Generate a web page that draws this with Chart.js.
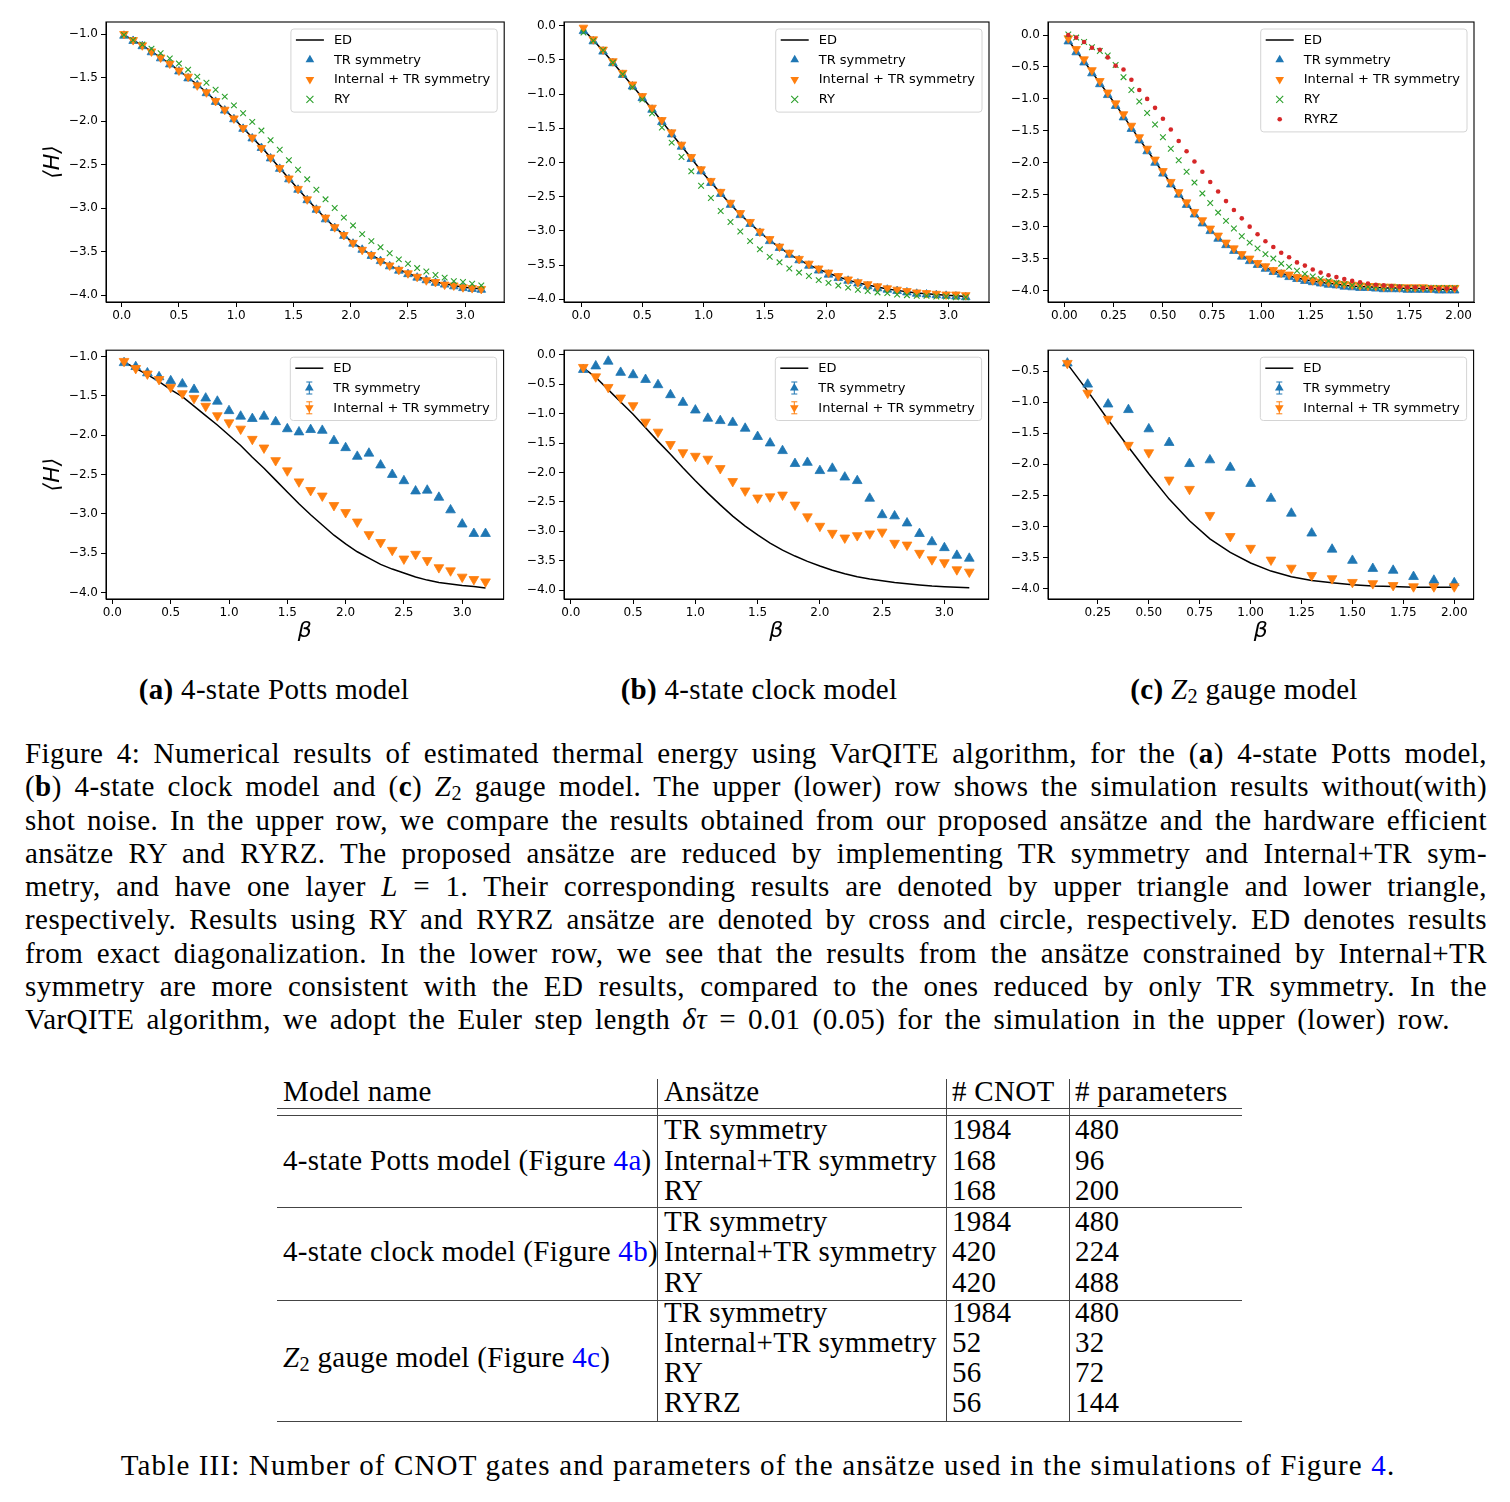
<!DOCTYPE html>
<html>
<head>
<meta charset="utf-8">
<script src="https://cdn.jsdelivr.net/npm/chart.js"></script>
<style>
html, body { margin: 0; padding: 0; background: #fff; }
body { width: 1510px; height: 1502px; position: relative; overflow: hidden; font-family: "Liberation Serif", serif; color: #000; }
canvas { position: absolute; }
.t { position: absolute; font-size: 29px; line-height: 29px; white-space: nowrap; letter-spacing: 0.3px; }
.cap { position: absolute; left: 25px; font-size: 29px; line-height: 29px; white-space: nowrap; letter-spacing: 0.45px; }
.sub { position: absolute; width: 600px; text-align: center; font-size: 29px; line-height: 29px; white-space: nowrap; letter-spacing: 0.3px; }
.s2 { font-size: 0.7em; position: relative; top: 0.22em; }
.hl { position: absolute; left: 277px; width: 965px; height: 1px; background: #444; }
.vl { position: absolute; width: 1px; top: 1079px; height: 343px; background: #444; }
.ref { color: #0000ff; }
</style>
</head>
<body>

<canvas id="c0" width="490" height="320" style="left:20px;top:10px"></canvas>
<canvas id="c1" width="480" height="320" style="left:515px;top:10px"></canvas>
<canvas id="c2" width="480" height="320" style="left:1000px;top:10px"></canvas>
<canvas id="c3" width="490" height="320" style="left:20px;top:340px"></canvas>
<canvas id="c4" width="480" height="320" style="left:515px;top:340px"></canvas>
<canvas id="c5" width="480" height="320" style="left:1000px;top:340px"></canvas>

<div class="sub" style="left:-26px;top:675px"><b>(a)</b> 4-state Potts model</div>
<div class="sub" style="left:459px;top:675px"><b>(b)</b> 4-state clock model</div>
<div class="sub" style="left:944px;top:675px"><b>(c)</b> <i>Z</i><span class="s2">2</span> gauge model</div>

<div class="cap" data-w="1462" style="top:739px"><span>Figure 4: Numerical results of estimated thermal energy using VarQITE algorithm, for the (<b>a</b>) 4-state Potts model,</span></div>
<div class="cap" data-w="1462" style="top:772px"><span>(<b>b</b>) 4-state clock model and (<b>c</b>) <i>Z</i><span class="s2">2</span> gauge model. The upper (lower) row shows the simulation results without(with)</span></div>
<div class="cap" data-w="1462" style="top:806px"><span>shot noise. In the upper row, we compare the results obtained from our proposed ansätze and the hardware efficient</span></div>
<div class="cap" data-w="1462" style="top:839px"><span>ansätze RY and RYRZ. The proposed ansätze are reduced by implementing TR symmetry and Internal+TR sym-</span></div>
<div class="cap" data-w="1462" style="top:872px"><span>metry, and have one layer <i>L</i> = 1. Their corresponding results are denoted by upper triangle and lower triangle,</span></div>
<div class="cap" data-w="1462" style="top:905px"><span>respectively. Results using RY and RYRZ ansätze are denoted by cross and circle, respectively. ED denotes results</span></div>
<div class="cap" data-w="1462" style="top:939px"><span>from exact diagonalization. In the lower row, we see that the results from the ansätze constrained by Internal+TR</span></div>
<div class="cap" data-w="1462" style="top:972px"><span>symmetry are more consistent with the ED results, compared to the ones reduced by only TR symmetry. In the</span></div>
<div class="cap" data-w="1425" style="top:1005px"><span>VarQITE algorithm, we adopt the Euler step length <i>δτ</i> = 0.01 (0.05) for the simulation in the upper (lower) row.</span></div>

<!-- table -->
<div class="t" style="left:283px;top:1077px">Model name</div>
<div class="t" style="left:664px;top:1077px">Ansätze</div>
<div class="t" style="left:952px;top:1077px"># CNOT</div>
<div class="t" style="left:1075px;top:1077px"># parameters</div>

<div class="t" style="left:283px;top:1146px">4-state Potts model (Figure <span class="ref">4a</span>)</div>
<div class="t" style="left:664px;top:1115px">TR symmetry</div>
<div class="t" style="left:664px;top:1146px">Internal+TR symmetry</div>
<div class="t" style="left:664px;top:1176px">RY</div>
<div class="t" style="left:952px;top:1115px">1984</div>
<div class="t" style="left:952px;top:1146px">168</div>
<div class="t" style="left:952px;top:1176px">168</div>
<div class="t" style="left:1075px;top:1115px">480</div>
<div class="t" style="left:1075px;top:1146px">96</div>
<div class="t" style="left:1075px;top:1176px">200</div>

<div class="t" style="left:283px;top:1237px">4-state clock model (Figure <span class="ref">4b</span>)</div>
<div class="t" style="left:664px;top:1207px">TR symmetry</div>
<div class="t" style="left:664px;top:1237px">Internal+TR symmetry</div>
<div class="t" style="left:664px;top:1268px">RY</div>
<div class="t" style="left:952px;top:1207px">1984</div>
<div class="t" style="left:952px;top:1237px">420</div>
<div class="t" style="left:952px;top:1268px">420</div>
<div class="t" style="left:1075px;top:1207px">480</div>
<div class="t" style="left:1075px;top:1237px">224</div>
<div class="t" style="left:1075px;top:1268px">488</div>

<div class="t" style="left:283px;top:1343px"><i>Z</i><span class="s2">2</span> gauge model (Figure <span class="ref">4c</span>)</div>
<div class="t" style="left:664px;top:1298px">TR symmetry</div>
<div class="t" style="left:664px;top:1328px">Internal+TR symmetry</div>
<div class="t" style="left:664px;top:1358px">RY</div>
<div class="t" style="left:664px;top:1388px">RYRZ</div>
<div class="t" style="left:952px;top:1298px">1984</div>
<div class="t" style="left:952px;top:1328px">52</div>
<div class="t" style="left:952px;top:1358px">56</div>
<div class="t" style="left:952px;top:1388px">56</div>
<div class="t" style="left:1075px;top:1298px">480</div>
<div class="t" style="left:1075px;top:1328px">32</div>
<div class="t" style="left:1075px;top:1358px">72</div>
<div class="t" style="left:1075px;top:1388px">144</div>

<div class="hl" style="top:1108px"></div>
<div class="hl" style="top:1115px"></div>
<div class="hl" style="top:1207px"></div>
<div class="hl" style="top:1300px"></div>
<div class="hl" style="top:1421px"></div>
<div class="vl" style="left:657px"></div>
<div class="vl" style="left:946px"></div>
<div class="vl" style="left:1069px"></div>

<div class="sub" style="left:0px;top:1451px;width:1516px;letter-spacing:1.15px">Table III: Number of CNOT gates and parameters of the ansätze used in the simulations of Figure <span class="ref">4</span>.</div>

<script>
// ---------------- data ----------------

// upper row, (a) and (b): beta grid
const betaTop = [0.02, 0.10, 0.18, 0.26, 0.34, 0.42, 0.50, 0.58, 0.66, 0.74, 0.82, 0.90, 0.98, 1.06, 1.14, 1.22, 1.30, 1.38, 1.46, 1.54,
                 1.62, 1.70, 1.78, 1.86, 1.94, 2.02, 2.10, 2.18, 2.26, 2.34, 2.42, 2.50, 2.58, 2.66, 2.74, 2.82, 2.90, 2.98, 3.06, 3.14];

const pottsEd  = [-1.01, -1.07, -1.13, -1.20, -1.27, -1.34, -1.42, -1.50, -1.58, -1.67, -1.77, -1.87, -1.97, -2.08, -2.19, -2.30, -2.42, -2.54, -2.66, -2.78,
                  -2.90, -3.01, -3.12, -3.22, -3.31, -3.40, -3.47, -3.54, -3.60, -3.66, -3.71, -3.75, -3.79, -3.82, -3.85, -3.87, -3.89, -3.91, -3.92, -3.93];
const pottsTr  = [-1.02, -1.08, -1.14, -1.21, -1.28, -1.35, -1.43, -1.51, -1.59, -1.68, -1.78, -1.88, -1.98, -2.09, -2.20, -2.31, -2.43, -2.55, -2.67, -2.79,
                  -2.91, -3.02, -3.13, -3.23, -3.32, -3.41, -3.48, -3.55, -3.61, -3.67, -3.72, -3.76, -3.80, -3.83, -3.86, -3.88, -3.90, -3.92, -3.93, -3.94];
const pottsInt = [-1.00, -1.07, -1.13, -1.20, -1.27, -1.34, -1.42, -1.49, -1.59, -1.67, -1.77, -1.87, -1.97, -2.08, -2.19, -2.31, -2.42, -2.54, -2.66, -2.78,
                  -2.90, -3.01, -3.11, -3.22, -3.31, -3.40, -3.48, -3.54, -3.61, -3.66, -3.71, -3.75, -3.79, -3.83, -3.85, -3.88, -3.89, -3.91, -3.92, -3.93];
const pottsRy  = [-1.01, -1.07, -1.12, -1.17, -1.22, -1.28, -1.34, -1.41, -1.49, -1.56, -1.64, -1.72, -1.82, -1.91, -2.01, -2.11, -2.22, -2.33, -2.45, -2.56,
                  -2.67, -2.79, -2.90, -3.00, -3.11, -3.20, -3.30, -3.38, -3.45, -3.52, -3.59, -3.64, -3.69, -3.73, -3.77, -3.80, -3.84, -3.85, -3.87, -3.89];

const clockEd  = [-0.06, -0.21, -0.37, -0.54, -0.71, -0.88, -1.05, -1.22, -1.40, -1.58, -1.76, -1.94, -2.12, -2.29, -2.45, -2.61, -2.76, -2.89, -3.02, -3.14,
                  -3.24, -3.34, -3.42, -3.50, -3.56, -3.62, -3.67, -3.72, -3.76, -3.79, -3.82, -3.85, -3.87, -3.89, -3.91, -3.92, -3.93, -3.94, -3.95, -3.96];
const clockTr  = [-0.08, -0.23, -0.38, -0.55, -0.72, -0.89, -1.06, -1.23, -1.41, -1.59, -1.77, -1.95, -2.13, -2.30, -2.46, -2.62, -2.77, -2.90, -3.03, -3.15,
                  -3.25, -3.35, -3.43, -3.51, -3.58, -3.64, -3.69, -3.73, -3.77, -3.81, -3.84, -3.86, -3.88, -3.90, -3.92, -3.93, -3.94, -3.95, -3.96, -3.97];
const clockInt = [-0.03, -0.20, -0.35, -0.52, -0.69, -0.86, -1.03, -1.20, -1.38, -1.56, -1.74, -1.92, -2.10, -2.27, -2.43, -2.59, -2.74, -2.87, -3.01, -3.12,
                  -3.23, -3.32, -3.41, -3.48, -3.55, -3.61, -3.66, -3.71, -3.75, -3.78, -3.81, -3.84, -3.86, -3.88, -3.90, -3.91, -3.92, -3.93, -3.93, -3.94];
const clockRy  = [-0.10, -0.22, -0.36, -0.54, -0.71, -0.90, -1.08, -1.28, -1.49, -1.71, -1.92, -2.13, -2.34, -2.52, -2.71, -2.87, -3.01, -3.15, -3.27, -3.38,
                  -3.46, -3.55, -3.61, -3.66, -3.72, -3.76, -3.80, -3.83, -3.86, -3.88, -3.90, -3.91, -3.93, -3.94, -3.95, -3.95, -3.96, -3.96, -3.97, -3.97];

// upper row, (c): beta grid
const betaGauge = [0.02, 0.06, 0.10, 0.14, 0.18, 0.22, 0.26, 0.30, 0.34, 0.38, 0.42, 0.46, 0.50, 0.54, 0.58, 0.62, 0.66, 0.70, 0.74, 0.78,
                   0.82, 0.86, 0.90, 0.94, 0.98, 1.02, 1.06, 1.10, 1.14, 1.18, 1.22, 1.26, 1.30, 1.34, 1.38, 1.42, 1.46, 1.50, 1.54, 1.58,
                   1.62, 1.66, 1.70, 1.74, 1.78, 1.82, 1.86, 1.90, 1.94, 1.98];

const gaugeEd   = [-0.08, -0.25, -0.41, -0.58, -0.75, -0.92, -1.09, -1.27, -1.45, -1.63, -1.80, -1.98, -2.15, -2.32, -2.48, -2.64, -2.79, -2.93, -3.05, -3.17,
                   -3.27, -3.36, -3.45, -3.52, -3.58, -3.64, -3.69, -3.73, -3.77, -3.80, -3.83, -3.85, -3.87, -3.89, -3.90, -3.92, -3.93, -3.94, -3.94, -3.95,
                   -3.96, -3.96, -3.96, -3.97, -3.97, -3.97, -3.97, -3.98, -3.98, -3.98];
const gaugeTr   = [-0.10, -0.27, -0.43, -0.60, -0.77, -0.94, -1.11, -1.29, -1.47, -1.65, -1.82, -2.00, -2.17, -2.34, -2.50, -2.66, -2.81, -2.95, -3.07, -3.19,
                   -3.29, -3.38, -3.47, -3.54, -3.60, -3.66, -3.71, -3.75, -3.79, -3.82, -3.85, -3.87, -3.89, -3.91, -3.92, -3.94, -3.95, -3.96, -3.96, -3.97,
                   -3.98, -3.98, -3.98, -3.99, -3.99, -3.99, -3.99, -4.00, -4.00, -4.00];
const gaugeInt  = [-0.05, -0.22, -0.38, -0.55, -0.72, -0.90, -1.07, -1.24, -1.42, -1.60, -1.78, -1.95, -2.13, -2.30, -2.46, -2.62, -2.77, -2.90, -3.03, -3.14,
                   -3.25, -3.34, -3.43, -3.50, -3.57, -3.62, -3.68, -3.72, -3.75, -3.79, -3.81, -3.84, -3.86, -3.87, -3.89, -3.90, -3.91, -3.92, -3.93, -3.93,
                   -3.94, -3.94, -3.95, -3.95, -3.95, -3.95, -3.96, -3.96, -3.96, -3.96];
const gaugeRy   = [0.01, -0.04, -0.11, -0.19, -0.25, -0.32, -0.47, -0.66, -0.86, -1.04, -1.22, -1.40, -1.60, -1.78, -1.96, -2.14, -2.31, -2.48, -2.63, -2.78,
                   -2.91, -3.03, -3.15, -3.25, -3.34, -3.43, -3.50, -3.58, -3.63, -3.69, -3.74, -3.78, -3.82, -3.85, -3.88, -3.90, -3.92, -3.93, -3.94, -3.94,
                   -3.95, -3.95, -3.95, -3.96, -3.96, -3.96, -3.96, -3.96, -3.96, -3.96];
const gaugeRyrz = [0.00, -0.04, -0.11, -0.20, -0.23, -0.35, -0.48, -0.54, -0.70, -0.86, -1.00, -1.14, -1.31, -1.48, -1.66, -1.82, -1.98, -2.14, -2.30, -2.45,
                   -2.60, -2.74, -2.87, -3.00, -3.12, -3.23, -3.32, -3.41, -3.48, -3.56, -3.61, -3.67, -3.72, -3.76, -3.79, -3.82, -3.85, -3.87, -3.89, -3.91,
                   -3.92, -3.93, -3.94, -3.95, -3.95, -3.96, -3.96, -3.97, -3.97, -3.97];

// lower row (with shot noise)
const betaLow = [0.1, 0.2, 0.3, 0.4, 0.5, 0.6, 0.7, 0.8, 0.9, 1.0, 1.1, 1.2, 1.3, 1.4, 1.5, 1.6,
                 1.7, 1.8, 1.9, 2.0, 2.1, 2.2, 2.3, 2.4, 2.5, 2.6, 2.7, 2.8, 2.9, 3.0, 3.1, 3.2];

const pottsLowEd  = [-1.07, -1.15, -1.23, -1.32, -1.42, -1.51, -1.63, -1.75, -1.87, -2.00, -2.13, -2.28, -2.42, -2.57, -2.72, -2.87,
                     -3.01, -3.14, -3.27, -3.38, -3.48, -3.56, -3.64, -3.70, -3.75, -3.80, -3.84, -3.87, -3.89, -3.91, -3.92, -3.94];
const pottsLowTr  = [-1.08, -1.13, -1.21, -1.26, -1.31, -1.35, -1.42, -1.53, -1.57, -1.69, -1.76, -1.79, -1.76, -1.83, -1.92, -1.96,
                     -1.93, -1.94, -2.07, -2.16, -2.27, -2.23, -2.38, -2.50, -2.58, -2.71, -2.70, -2.79, -2.95, -3.13, -3.25, -3.25];
const pottsLowInt = [-1.06, -1.15, -1.22, -1.29, -1.39, -1.47, -1.53, -1.63, -1.75, -1.84, -1.92, -2.05, -2.16, -2.32, -2.45, -2.59,
                     -2.70, -2.77, -2.89, -2.98, -3.10, -3.26, -3.36, -3.46, -3.57, -3.51, -3.59, -3.68, -3.72, -3.80, -3.83, -3.86];

const clockLowEd  = [-0.22, -0.38, -0.59, -0.80, -1.01, -1.24, -1.47, -1.69, -1.92, -2.14, -2.35, -2.55, -2.74, -2.91, -3.06, -3.20,
                     -3.32, -3.42, -3.51, -3.59, -3.66, -3.72, -3.77, -3.81, -3.84, -3.87, -3.89, -3.91, -3.93, -3.94, -3.95, -3.96];
const clockLowTr  = [-0.25, -0.19, -0.11, -0.30, -0.34, -0.42, -0.51, -0.68, -0.81, -0.94, -1.08, -1.12, -1.15, -1.25, -1.39, -1.50,
                     -1.63, -1.85, -1.83, -1.97, -1.93, -2.08, -2.14, -2.44, -2.72, -2.74, -2.86, -3.04, -3.18, -3.28, -3.41, -3.46];
const clockLowInt = [-0.21, -0.37, -0.55, -0.73, -0.86, -1.14, -1.31, -1.52, -1.66, -1.72, -1.77, -1.93, -2.15, -2.31, -2.43, -2.41,
                     -2.38, -2.55, -2.75, -2.91, -3.03, -3.11, -3.07, -3.04, -3.01, -3.20, -3.23, -3.37, -3.48, -3.53, -3.65, -3.69];

const betaLowGauge = [0.1, 0.2, 0.3, 0.4, 0.5, 0.6, 0.7, 0.8, 0.9, 1.0, 1.1, 1.2, 1.3, 1.4, 1.5, 1.6, 1.7, 1.8, 1.9, 2.0];
const gaugeLowEd  = [-0.38, -0.82, -1.28, -1.72, -2.15, -2.56, -2.91, -3.20, -3.42, -3.59, -3.72, -3.81, -3.87, -3.91, -3.94, -3.96, -3.97, -3.98, -3.98, -3.98];
const gaugeLowTr  = [-0.37, -0.71, -1.03, -1.12, -1.43, -1.65, -1.99, -1.93, -2.05, -2.31, -2.55, -2.79, -3.11, -3.37, -3.55, -3.68, -3.71, -3.81, -3.87, -3.91];
const gaugeLowInt = [-0.37, -0.85, -1.27, -1.69, -1.81, -2.25, -2.40, -2.82, -3.16, -3.35, -3.54, -3.67, -3.79, -3.84, -3.90, -3.92, -3.95, -3.97, -3.97, -3.97];

// tick labels
const ticksBeta      = [0.0, 0.5, 1.0, 1.5, 2.0, 2.5, 3.0];
const ticksBetaGauge = [0.00, 0.25, 0.50, 0.75, 1.00, 1.25, 1.50, 1.75, 2.00];
const ticksBetaLowG  = [0.25, 0.50, 0.75, 1.00, 1.25, 1.50, 1.75, 2.00];
const ticksPotts     = [-4.0, -3.5, -3.0, -2.5, -2.0, -1.5, -1.0];
const ticksZeroDown  = [-4.0, -3.5, -3.0, -2.5, -2.0, -1.5, -1.0, -0.5, 0.0];
const ticksGaugeLow  = [-4.0, -3.5, -3.0, -2.5, -2.0, -1.5, -1.0, -0.5];

const LABELS = { ed: 'ED', tr: 'TR symmetry', int: 'Internal + TR symmetry', ry: 'RY', ryrz: 'RYRZ' };

// ---------------- styling ----------------
const C_BLUE = '#1f77b4', C_ORANGE = '#ff7f0e', C_GREEN = '#2ca02c', C_RED = '#d62728';
const TICK_FONT = { family: 'DejaVu Sans', size: 12 };

function pts(xs, ys) {
    return xs.map((x, i) => ({ x: x, y: ys[i] }));
}

function fmt(v, d) {
    let s = Math.abs(v).toFixed(d);
    return (v < -1e-9 ? '\u2212' : '') + s;
}

function makeDataset(key, xs, ys, r) {
    let d = { label: LABELS[key], data: pts(xs, ys) };
    if (key === 'ed') {
        return Object.assign(d, { type: 'line', showLine: true, borderColor: '#000', borderWidth: 1.5, pointRadius: 0, order: 5 });
    }
    if (key === 'tr') {
        return Object.assign(d, { pointStyle: 'triangle', pointRadius: r, pointBackgroundColor: C_BLUE, pointBorderColor: C_BLUE, pointBorderWidth: 0.8, order: 4 });
    }
    if (key === 'int') {
        return Object.assign(d, { pointStyle: 'triangle', rotation: 180, pointRadius: r, pointBackgroundColor: C_ORANGE, pointBorderColor: C_ORANGE, pointBorderWidth: 0.8, order: 3 });
    }
    if (key === 'ry') {
        return Object.assign(d, { pointStyle: 'crossRot', pointRadius: 4, pointBorderColor: C_GREEN, pointBorderWidth: 1.1, order: 2 });
    }
    // ryrz
    return Object.assign(d, { pointStyle: 'circle', pointRadius: 2.3, pointBackgroundColor: C_RED, pointBorderColor: C_RED, pointBorderWidth: 0, order: 1 });
}

function triangle(ctx, x, y, r, down, color) {
    let s = down ? -1 : 1;
    ctx.beginPath();
    ctx.moveTo(x, y - s * r);
    ctx.lineTo(x + r * 0.866, y + s * r * 0.5);
    ctx.lineTo(x - r * 0.866, y + s * r * 0.5);
    ctx.closePath();
    ctx.fillStyle = color;
    ctx.fill();
}

function drawHandle(ctx, key, x0, cy, err) {
    let cx = x0 + 14;
    if (key === 'ed') {
        ctx.strokeStyle = '#000'; ctx.lineWidth = 1.5;
        ctx.beginPath(); ctx.moveTo(x0, cy); ctx.lineTo(x0 + 28, cy); ctx.stroke();
        return;
    }
    if (key === 'tr' || key === 'int') {
        let col = key === 'tr' ? C_BLUE : C_ORANGE;
        if (err) {
            ctx.strokeStyle = col; ctx.lineWidth = 1;
            ctx.beginPath();
            ctx.moveTo(cx, cy - 6); ctx.lineTo(cx, cy + 6);
            ctx.moveTo(cx - 3, cy - 6); ctx.lineTo(cx + 3, cy - 6);
            ctx.moveTo(cx - 3, cy + 6); ctx.lineTo(cx + 3, cy + 6);
            ctx.stroke();
        }
        triangle(ctx, cx, cy, 5, key === 'int', col);
        return;
    }
    if (key === 'ry') {
        ctx.strokeStyle = C_GREEN; ctx.lineWidth = 1.1;
        ctx.beginPath();
        ctx.moveTo(cx - 3.5, cy - 3.5); ctx.lineTo(cx + 3.5, cy + 3.5);
        ctx.moveTo(cx - 3.5, cy + 3.5); ctx.lineTo(cx + 3.5, cy - 3.5);
        ctx.stroke();
        return;
    }
    ctx.fillStyle = C_RED;
    ctx.beginPath(); ctx.arc(cx, cy, 2.3, 0, Math.PI * 2); ctx.fill();
}

// frame (all four spines) + matplotlib-like legend box in the upper right corner
const frameLegend = {
    id: 'frameLegend',
    afterDraw(chart, args, opts) {
        let ctx = chart.ctx, a = chart.chartArea;
        ctx.save();
        ctx.strokeStyle = '#000'; ctx.lineWidth = 1.1;
        ctx.strokeRect(a.left, a.top, a.right - a.left, a.bottom - a.top);

        ctx.font = '13px "DejaVu Sans"';
        let keys = opts.keys;
        let tw = Math.max(...keys.map(k => ctx.measureText(LABELS[k]).width));
        let rowH = 19.8;
        let w = 43 + tw + 7, h = 23.7 + rowH * (keys.length - 1);
        let x0 = a.right - 7 - w, y0 = a.top + 7, rr = 3;
        ctx.beginPath();
        ctx.moveTo(x0 + rr, y0);
        ctx.arcTo(x0 + w, y0, x0 + w, y0 + h, rr);
        ctx.arcTo(x0 + w, y0 + h, x0, y0 + h, rr);
        ctx.arcTo(x0, y0 + h, x0, y0, rr);
        ctx.arcTo(x0, y0, x0 + w, y0, rr);
        ctx.closePath();
        ctx.fillStyle = 'rgba(255,255,255,0.8)'; ctx.fill();
        ctx.strokeStyle = '#d4d4d4'; ctx.lineWidth = 1; ctx.stroke();

        keys.forEach((k, i) => {
            let cy = y0 + 11 + i * rowH;
            drawHandle(ctx, k, x0 + 5, cy, opts.err);
            ctx.fillStyle = '#000'; ctx.textAlign = 'left'; ctx.textBaseline = 'middle';
            ctx.fillText(LABELS[k], x0 + 43, cy + 0.5);
        });
        ctx.restore();
    }
};

// ---------------- panels ----------------
const TOP = { padTop: 12, xAxisH: 28, r: 5, err: false, xTitle: false };
const LOW = { padTop: 8, xAxisH: 61, r: 5.6, err: true, xTitle: true };

const panels = [
    Object.assign({ id: 'c0', yAxisW: 86, padRight: 5, yTitle: true, xMin: -0.137, xMax: 3.34, yMin: -4.08, yMax: -0.862,
        xTicks: ticksBeta, xDec: 1, yTicks: ticksPotts,
        series: [['ed', betaTop, pottsEd], ['tr', betaTop, pottsTr], ['int', betaTop, pottsInt], ['ry', betaTop, pottsRy]] }, TOP),
    Object.assign({ id: 'c1', yAxisW: 49, padRight: 6, yTitle: false, xMin: -0.139, xMax: 3.33, yMin: -4.04, yMax: 0.053,
        xTicks: ticksBeta, xDec: 1, yTicks: ticksZeroDown,
        series: [['ed', betaTop, clockEd], ['tr', betaTop, clockTr], ['int', betaTop, clockInt], ['ry', betaTop, clockRy]] }, TOP),
    Object.assign({ id: 'c2', yAxisW: 48, padRight: 6, yTitle: false, xMin: -0.083, xMax: 2.078, yMin: -4.18, yMax: 0.204,
        xTicks: ticksBetaGauge, xDec: 2, yTicks: ticksZeroDown,
        series: [['ed', betaGauge, gaugeEd], ['tr', betaGauge, gaugeTr], ['int', betaGauge, gaugeInt], ['ry', betaGauge, gaugeRy], ['ryrz', betaGauge, gaugeRyrz]] }, TOP),
    Object.assign({ id: 'c3', yAxisW: 86, padRight: 5, yTitle: true, xMin: -0.055, xMax: 3.355, yMin: -4.08, yMax: -0.92,
        xTicks: ticksBeta, xDec: 1, yTicks: ticksPotts,
        series: [['ed', betaLow, pottsLowEd], ['tr', betaLow, pottsLowTr], ['int', betaLow, pottsLowInt]] }, LOW),
    Object.assign({ id: 'c4', yAxisW: 49, padRight: 6, yTitle: false, xMin: -0.055, xMax: 3.355, yMin: -4.15, yMax: 0.08,
        xTicks: ticksBeta, xDec: 1, yTicks: ticksZeroDown,
        series: [['ed', betaLow, clockLowEd], ['tr', betaLow, clockLowTr], ['int', betaLow, clockLowInt]] }, LOW),
    Object.assign({ id: 'c5', yAxisW: 48, padRight: 6, yTitle: false, xMin: 0.005, xMax: 2.095, yMin: -4.17, yMax: -0.16,
        xTicks: ticksBetaLowG, xDec: 2, yTicks: ticksGaugeLow,
        series: [['ed', betaLowGauge, gaugeLowEd], ['tr', betaLowGauge, gaugeLowTr], ['int', betaLowGauge, gaugeLowInt]] }, LOW),
];

panels.forEach(p => {
    let datasets = p.series.map(s => makeDataset(s[0], s[1], s[2], p.r));
    new Chart(document.getElementById(p.id), {
        type: 'scatter',
        data: { datasets: datasets },
        plugins: [frameLegend],
        options: {
            responsive: false,
            animation: false,
            events: [],
            layout: { padding: { top: p.padTop, right: p.padRight, left: 0, bottom: 0 } },
            plugins: {
                legend: { display: false },
                tooltip: { enabled: false },
                frameLegend: { keys: p.series.map(s => s[0]), err: p.err }
            },
            scales: {
                x: {
                    type: 'linear', min: p.xMin, max: p.xMax,
                    afterBuildTicks: s => { s.ticks = p.xTicks.map(v => ({ value: v })); },
                    afterFit: s => { s.height = p.xAxisH; },
                    ticks: { callback: v => fmt(v, p.xDec), font: TICK_FONT, color: '#000', padding: 2, maxRotation: 0, autoSkip: false },
                    grid: { display: true, drawOnChartArea: false, drawTicks: true, tickLength: 5, tickWidth: 1, tickColor: '#000' },
                    border: { display: true, color: '#000', width: 1 },
                    title: { display: p.xTitle, text: 'β', color: '#000',
                             font: { family: 'DejaVu Sans', size: 22, style: 'italic' }, padding: { top: 0, bottom: 16 } }
                },
                y: {
                    type: 'linear', min: p.yMin, max: p.yMax,
                    afterBuildTicks: s => { s.ticks = p.yTicks.map(v => ({ value: v })); },
                    afterFit: s => { s.width = p.yAxisW; },
                    ticks: { callback: v => fmt(v, 1), font: TICK_FONT, color: '#000', padding: 3, autoSkip: false },
                    grid: { display: true, drawOnChartArea: false, drawTicks: true, tickLength: 5, tickWidth: 1, tickColor: '#000' },
                    border: { display: true, color: '#000', width: 1 },
                    title: { display: p.yTitle, text: '⟨H⟩', color: '#000',
                             font: { family: 'DejaVu Sans', size: 22, style: 'italic' }, padding: { top: 20, bottom: 0 } }
                }
            }
        }
    });
});

// justify each caption line to the measured width of the reference
document.querySelectorAll('.cap').forEach(el => {
    let span = el.firstElementChild;
    let target = +el.dataset.w;
    let natural = span.getBoundingClientRect().width;
    let n = (span.textContent.match(/ /g) || []).length;
    span.style.wordSpacing = ((target - natural) / n) + 'px';
});
</script>
</body>
</html>
